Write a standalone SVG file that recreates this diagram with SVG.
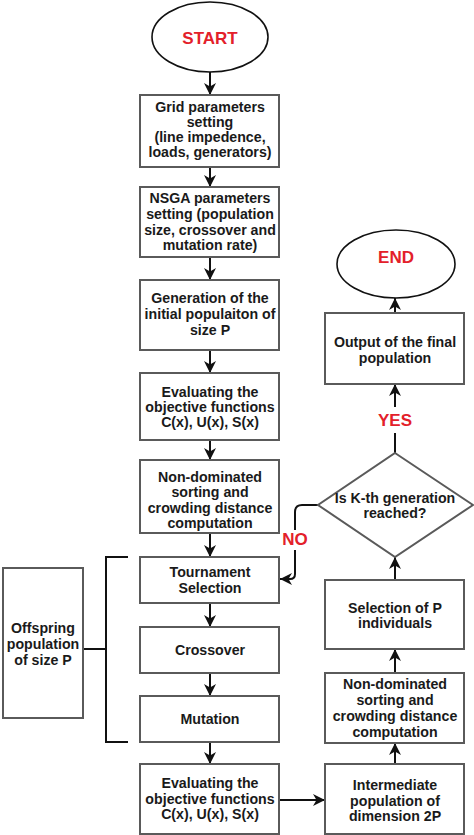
<svg xmlns="http://www.w3.org/2000/svg" width="474" height="835" viewBox="0 0 474 835">
<style>
.box{fill:#fff;stroke:#5a5a5a;stroke-width:2}
.ell{fill:#fff;stroke:#111;stroke-width:1.6}
.t{font-family:"Liberation Sans",Arial,sans-serif;font-weight:bold;font-size:14.2px;fill:#1a1a1a;text-anchor:middle}
.r{font-family:"Liberation Sans",Arial,sans-serif;font-weight:bold;font-size:17px;fill:#e3202a;text-anchor:middle}
.c{fill:none;stroke:#111;stroke-width:2}
</style>
<defs>
<marker id="ah" markerUnits="userSpaceOnUse" markerWidth="12" markerHeight="12" viewBox="0 0 12 12" refX="12" refY="6" orient="auto">
<path d="M0,0 L12,6 L0,12 L3.5,6 z" fill="#111"/>
</marker>
</defs>
<rect width="474" height="835" fill="#fff"/>
<g id="connectors">
<line class="c" x1="210" y1="72" x2="210" y2="95" marker-end="url(#ah)"/>
<line class="c" x1="210" y1="167" x2="210" y2="187" marker-end="url(#ah)"/>
<line class="c" x1="210" y1="257" x2="210" y2="280" marker-end="url(#ah)"/>
<line class="c" x1="210" y1="350" x2="210" y2="373" marker-end="url(#ah)"/>
<line class="c" x1="210" y1="440" x2="210" y2="460" marker-end="url(#ah)"/>
<line class="c" x1="210" y1="533" x2="210" y2="557" marker-end="url(#ah)"/>
<line class="c" x1="210" y1="603" x2="210" y2="627" marker-end="url(#ah)"/>
<line class="c" x1="210" y1="673" x2="210" y2="696" marker-end="url(#ah)"/>
<line class="c" x1="210" y1="742" x2="210" y2="764" marker-end="url(#ah)"/>
<line class="c" x1="279" y1="800" x2="325" y2="800" marker-end="url(#ah)"/>
<line class="c" x1="395" y1="764" x2="395" y2="743" marker-end="url(#ah)"/>
<line class="c" x1="395" y1="673" x2="395" y2="649" marker-end="url(#ah)"/>
<line class="c" x1="395" y1="580" x2="395" y2="557" marker-end="url(#ah)"/>
<path class="c" d="M395,453 L395,433"/>
<line class="c" x1="395" y1="407" x2="395" y2="384" marker-end="url(#ah)"/>
<line class="c" x1="395" y1="313" x2="395" y2="298" marker-end="url(#ah)"/>
<path class="c" d="M318,505 L302,505 Q295,505 295,512 L295,530"/>
<path class="c" d="M295,550 L295,574 Q295,579 290,579 L280,579" marker-end="url(#ah)"/>
<path class="c" d="M128,557 L106,557 L106,742 L128,742"/>
<line class="c" x1="83" y1="649" x2="106" y2="649"/>
</g>
<g id="start">
<ellipse class="ell" cx="210" cy="37" rx="58" ry="35"/>
<text class="r" x="210" y="44">START</text>
</g>
<g id="grid">
<rect class="box" x="140" y="95" width="139" height="72"/>
<text class="t" x="210" y="112">Grid parameters</text>
<text class="t" x="210" y="127">setting</text>
<text class="t" x="210" y="142">(line impedence,</text>
<text class="t" x="210" y="157">loads, generators)</text>
</g>
<g id="nsga">
<rect class="box" x="140" y="187" width="139" height="70"/>
<text class="t" x="210" y="203">NSGA parameters</text>
<text class="t" x="210" y="218.5">setting (population</text>
<text class="t" x="210" y="234.5">size, crossover and</text>
<text class="t" x="210" y="250">mutation rate)</text>
</g>
<g id="generation">
<rect class="box" x="140" y="280" width="139" height="70"/>
<text class="t" x="210" y="303">Generation of the</text>
<text class="t" x="210" y="319">initial populaiton of</text>
<text class="t" x="210" y="335">size P</text>
</g>
<g id="evaluate1">
<rect class="box" x="140" y="373" width="139" height="67"/>
<text class="t" x="210" y="397">Evaluating the</text>
<text class="t" x="210" y="412">objective functions</text>
<text class="t" x="210" y="427">C(x), U(x), S(x)</text>
</g>
<g id="nondom1">
<rect class="box" x="140" y="460" width="139" height="73"/>
<text class="t" x="210" y="482">Non-dominated</text>
<text class="t" x="210" y="497">sorting  and</text>
<text class="t" x="210" y="512.5">crowding distance</text>
<text class="t" x="210" y="528">computation</text>
</g>
<g id="tournament">
<rect class="box" x="140" y="557" width="139" height="46"/>
<text class="t" x="210" y="577">Tournament</text>
<text class="t" x="210" y="593">Selection</text>
</g>
<g id="crossover">
<rect class="box" x="140" y="627" width="139" height="46"/>
<text class="t" x="210" y="655">Crossover</text>
</g>
<g id="mutation">
<rect class="box" x="140" y="696" width="139" height="46"/>
<text class="t" x="210" y="724">Mutation</text>
</g>
<g id="evaluate2">
<rect class="box" x="140" y="764" width="139" height="70"/>
<text class="t" x="210" y="788">Evaluating the</text>
<text class="t" x="210" y="803.5">objective functions</text>
<text class="t" x="210" y="819">C(x), U(x), S(x)</text>
</g>
<g id="offspring">
<rect class="box" x="3" y="568" width="80" height="150"/>
<text class="t" x="43" y="633">Offspring</text>
<text class="t" x="43" y="649">population</text>
<text class="t" x="43" y="665">of size P</text>
</g>
<g id="intermediate">
<rect class="box" x="325" y="764" width="139" height="70"/>
<text class="t" x="395" y="790">Intermediate</text>
<text class="t" x="395" y="805.5">population of</text>
<text class="t" x="395" y="821">dimension 2P</text>
</g>
<g id="nondom2">
<rect class="box" x="325" y="673" width="139" height="70"/>
<text class="t" x="395" y="689">Non-dominated</text>
<text class="t" x="395" y="705">sorting  and</text>
<text class="t" x="395" y="721">crowding distance</text>
<text class="t" x="395" y="737">computation</text>
</g>
<g id="selection">
<rect class="box" x="325" y="580" width="139" height="69"/>
<text class="t" x="395" y="613">Selection of P</text>
<text class="t" x="395" y="628">individuals</text>
</g>
<g id="decision">
<polygon points="395,453 473,505 395,557 318,505" fill="#fff" stroke="#5a5a5a" stroke-width="2"/>
<text class="t" x="395" y="503">Is K-th generation</text>
<text class="t" x="395" y="518">reached?</text>
</g>
<g id="output">
<rect class="box" x="325" y="313" width="139" height="71"/>
<text class="t" x="395" y="347">Output of the final</text>
<text class="t" x="395" y="363">population</text>
</g>
<g id="end">
<ellipse class="ell" cx="396" cy="264" rx="59" ry="34"/>
<text class="r" x="396" y="263">END</text>
</g>
<g id="labels">
<text class="r" x="395" y="426">YES</text>
<text class="r" x="295" y="545">NO</text>
</g>
</svg>
